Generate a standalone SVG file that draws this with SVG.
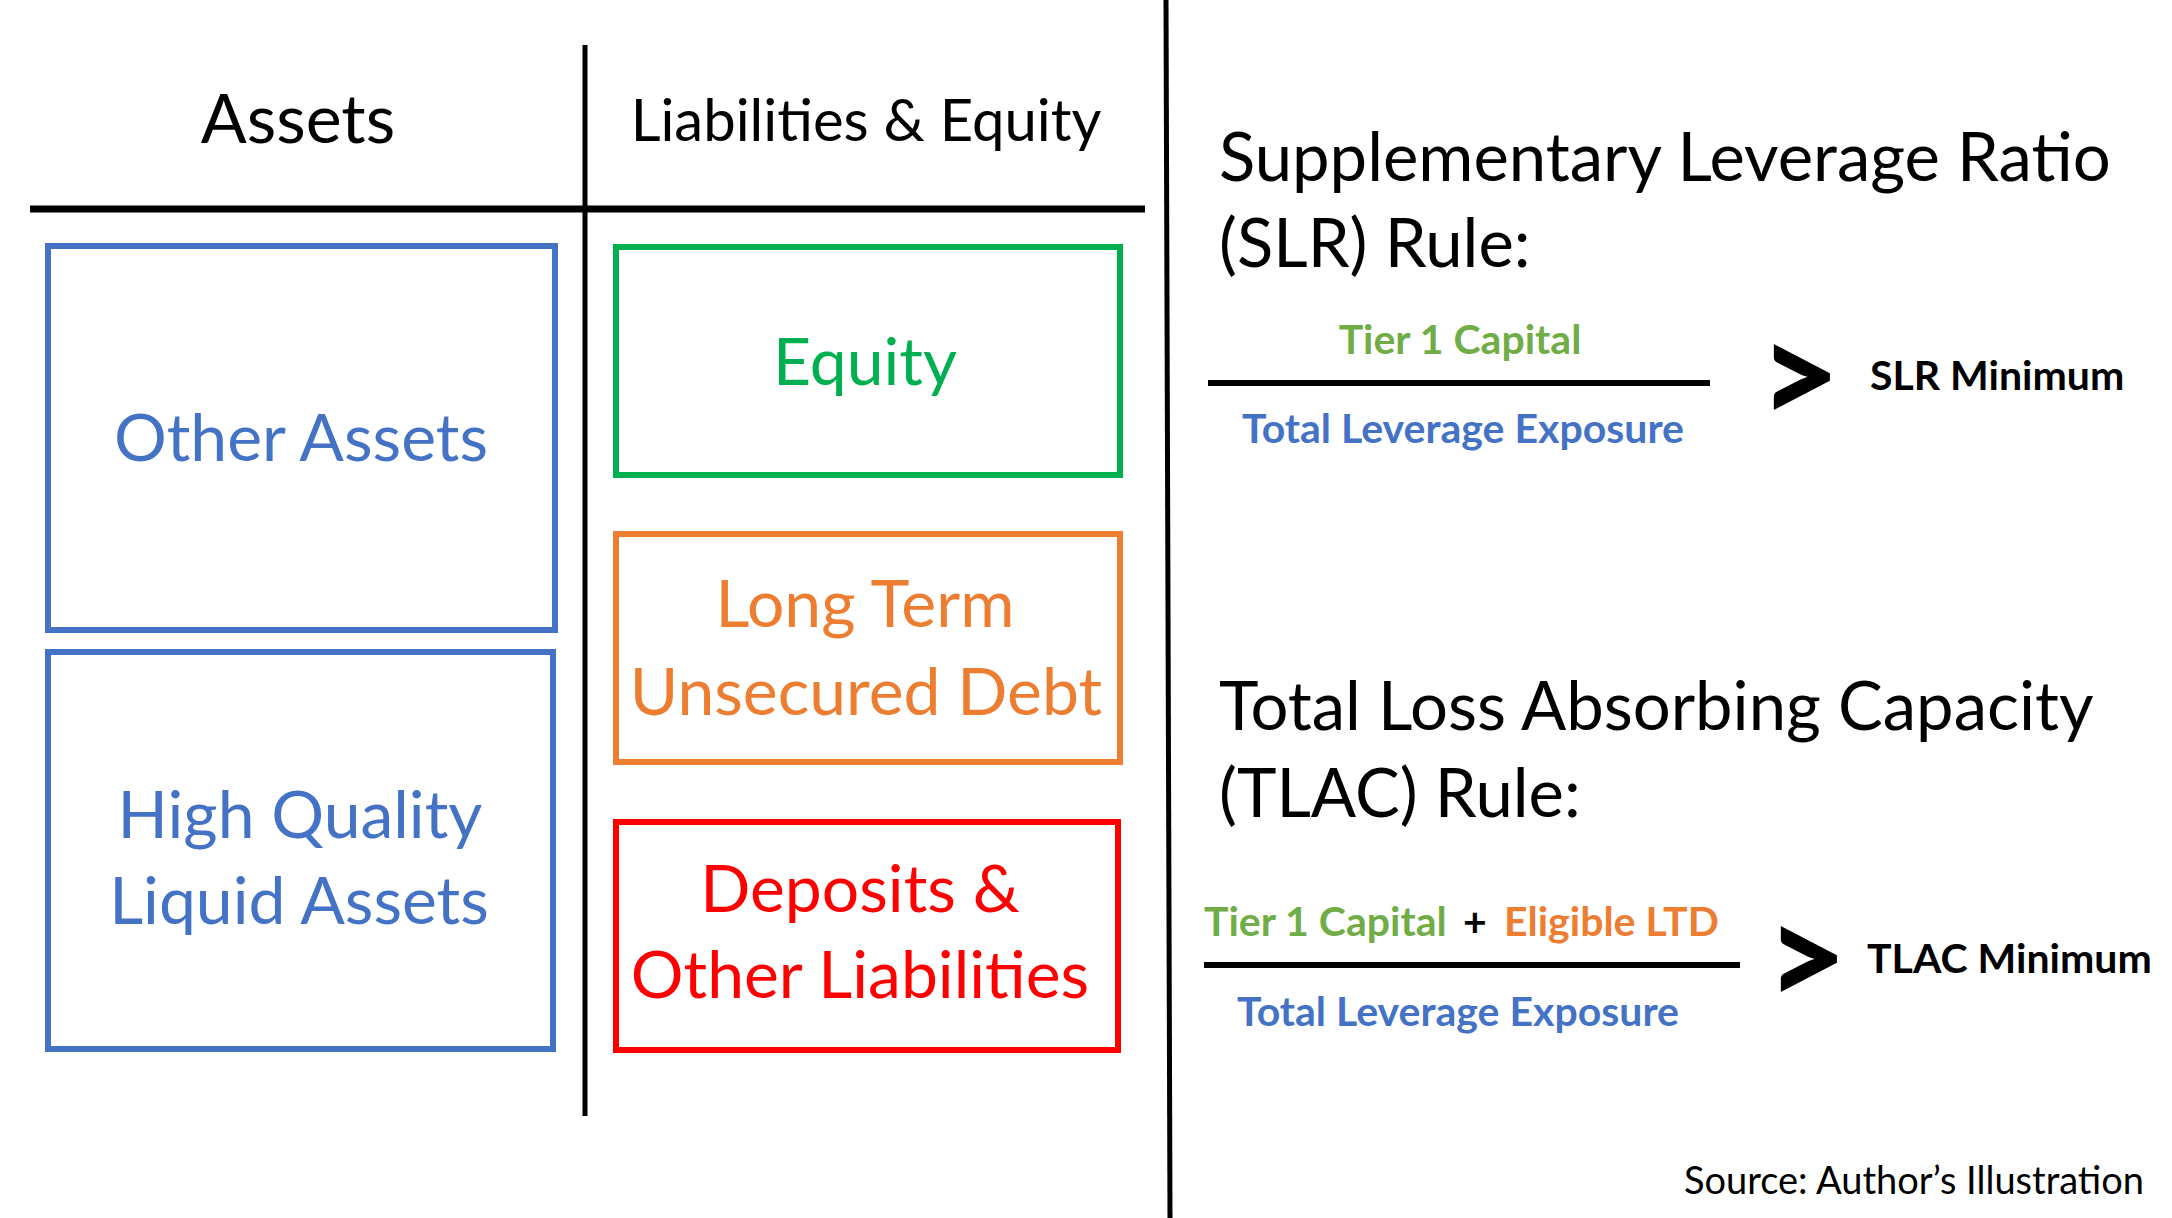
<svg xmlns="http://www.w3.org/2000/svg" width="2172" height="1218" viewBox="0 0 2172 1218">
<style>
text{font-family:Lato,"Open Sans","Liberation Sans",sans-serif;}
.hd{fill:#000;text-anchor:middle;}
.box{fill:none;stroke-width:6;}
.lbl{font-size:66px;text-anchor:middle;}
.ttl{font-size:67px;fill:#000;}
.frac{font-size:41px;font-weight:bold;}
.rule{stroke:#000;stroke-width:6;}
.gt{font-size:140px;font-weight:900;fill:#000;}
</style>
<rect width="2172" height="1218" fill="#fff"/>
<g id="table-lines">
<line x1="585" y1="45" x2="585" y2="1116" stroke="#000" stroke-width="5"/>
<line x1="30" y1="209" x2="1145" y2="209" stroke="#000" stroke-width="7"/>
<line x1="1166" y1="0" x2="1170" y2="1218" stroke="#000" stroke-width="5"/>
</g>
<g id="headers">
<text class="hd" x="298" y="143" font-size="68">Assets</text>
<text class="hd" x="866" y="141" font-size="58">Liabilities &amp; Equity</text>
</g>
<g id="other-assets">
<rect class="box" x="48" y="246" width="507" height="384" stroke="#4472C4"/>
<text class="lbl" x="301" y="461" fill="#4472C4">Other Assets</text>
</g>
<g id="hqla">
<rect class="box" x="48" y="652" width="505" height="397" stroke="#4472C4"/>
<text class="lbl" x="300" y="838" fill="#4472C4">High Quality</text>
<text class="lbl" x="299" y="924" fill="#4472C4">Liquid Assets</text>
</g>
<g id="equity">
<rect class="box" x="616" y="247" width="504" height="228" stroke="#00B050"/>
<text class="lbl" x="865" y="385" fill="#00B050">Equity</text>
</g>
<g id="ltd">
<rect class="box" x="616" y="534" width="504" height="228" stroke="#ED7D31"/>
<text class="lbl" x="865" y="627" fill="#ED7D31">Long Term</text>
<text class="lbl" x="866" y="715" fill="#ED7D31">Unsecured Debt</text>
</g>
<g id="deposits">
<rect class="box" x="616" y="822" width="502" height="228" stroke="#FF0000"/>
<text class="lbl" x="860" y="912" fill="#FF0000">Deposits &amp;</text>
<text class="lbl" x="860" y="998" fill="#FF0000">Other Liabilities</text>
</g>
<g id="slr">
<text class="ttl" x="1219" y="181" font-size="68">Supplementary Leverage Ratio</text>
<text class="ttl" x="1219" y="267">(SLR) Rule:</text>
<text class="frac" x="1460" y="354" text-anchor="middle" fill="#70AD47">Tier 1 Capital</text>
<line class="rule" x1="1208" y1="383" x2="1710" y2="383"/>
<text class="frac" x="1463" y="443" text-anchor="middle" fill="#4472C4">Total Leverage Exposure</text>
<text class="gt" x="1759" y="424">&gt;</text>
<text class="frac" x="1870" y="390" fill="#000" font-size="42">SLR Minimum</text>
</g>
<g id="tlac">
<text class="ttl" x="1219" y="730">Total Loss Absorbing Capacity</text>
<text class="ttl" x="1219" y="817">(TLAC) Rule:</text>
<text class="frac" x="1204" y="936" fill="#70AD47">Tier 1 Capital</text>
<text class="frac" x="1463" y="936" fill="#000">+</text>
<text class="frac" x="1504" y="936" fill="#ED7D31">Eligible LTD</text>
<line class="rule" x1="1204" y1="965" x2="1740" y2="965"/>
<text class="frac" x="1458" y="1026" text-anchor="middle" fill="#4472C4">Total Leverage Exposure</text>
<text class="gt" x="1766" y="1006">&gt;</text>
<text class="frac" x="1867" y="973" fill="#000">TLAC Minimum</text>
</g>
<text x="2144" y="1194" font-size="38" text-anchor="end" fill="#000">Source: Author’s Illustration</text>
</svg>
